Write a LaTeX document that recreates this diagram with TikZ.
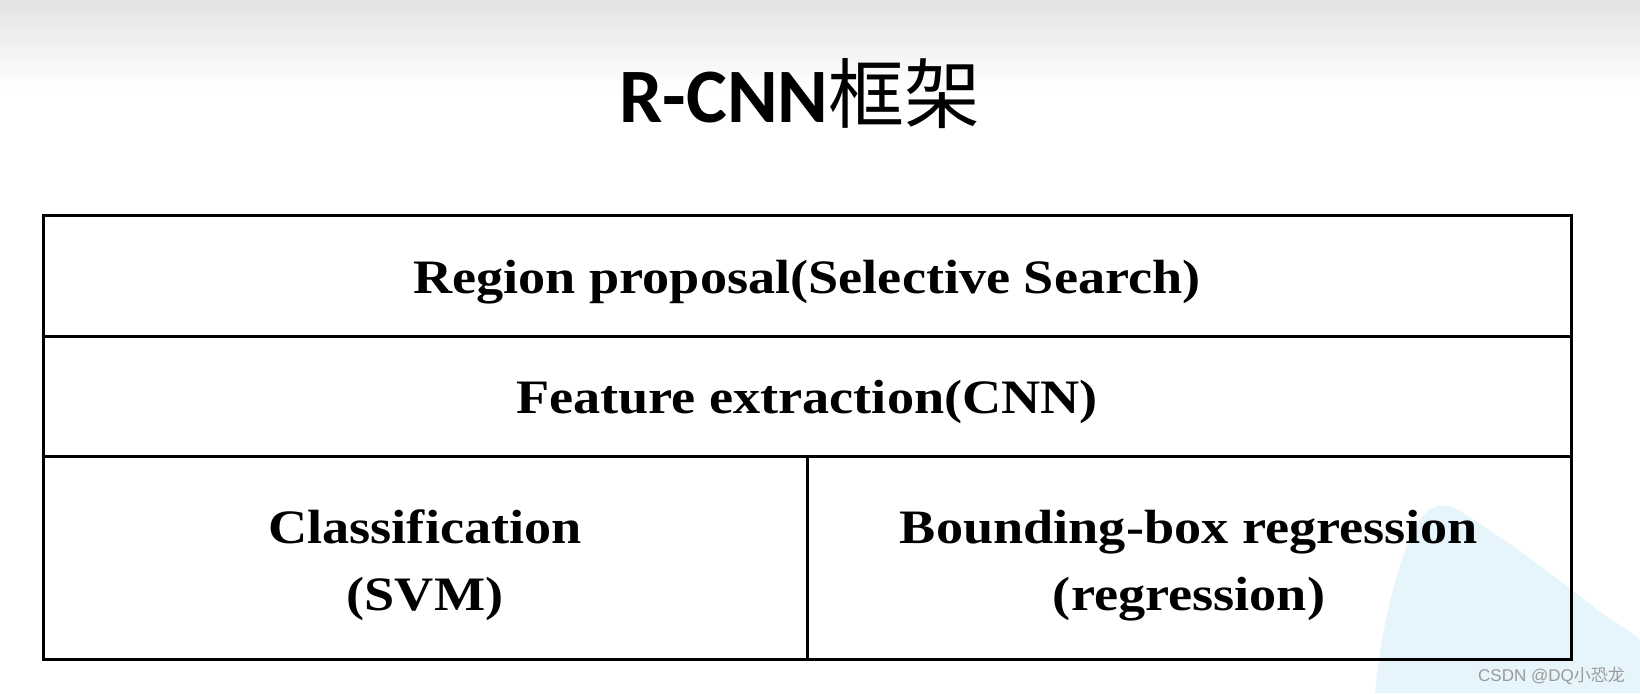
\documentclass[tikz,border=0pt]{standalone}
\usepackage{fontspec}
\setmainfont{Liberation Serif}[FakeStretch=1.13]
\newfontfamily\titlefont{Carlito}
\newfontfamily\cjk{Noto Sans CJK SC}
\newfontfamily\wmfont{Liberation Sans}
\definecolor{topgray}{HTML}{E3E3E3}
\definecolor{blob}{HTML}{E6F5FB}
\definecolor{wmgray}{HTML}{9A9A9A}
\tikzset{
  grid line/.style={line width=3pt, black, line cap=rect},
  celltext/.style={font=\bfseries\fontsize{48}{67}\selectfont, anchor=base, inner sep=0pt, align=center},
}
\begin{document}
\begin{tikzpicture}[x=1pt, y=-1pt]
\useasboundingbox (0,0) rectangle (1640,693);
\fill[white] (0,0) rectangle (1640,693);
\shade[top color=topgray, bottom color=white] (0,0) rectangle (1640,90);
% light blue background blob
\fill[blob] (1375,693) .. controls (1380,640) and (1395,560) .. (1420,520)
  .. controls (1428,507) and (1440,502) .. (1455,508)
  .. controls (1500,535) and (1560,580) .. (1600,612)
  .. controls (1620,625) and (1635,635) .. (1640,640) -- (1640,693) -- cycle;
% title
\node[anchor=base, inner sep=0pt] (title) at (800,122)
  {\titlefont\bfseries\fontsize{77}{85}\selectfont R-CNN\cjk\mdseries\fontsize{76}{85}\selectfont 框架};
% table corners
\coordinate (tl) at (43,215);
\coordinate (tr) at (1571,215);
\coordinate (r1l) at (43,336);
\coordinate (r1r) at (1571,336);
\coordinate (r2l) at (43,456);
\coordinate (r2r) at (1571,456);
\coordinate (bl) at (43,659);
\coordinate (br) at (1571,659);
\coordinate (dtop) at (807,456);
\coordinate (dbot) at (807,659);
\draw[grid line] (tl) -- (tr) -- (br) -- (bl) -- cycle;
\draw[grid line] (r1l) -- (r1r);
\draw[grid line] (r2l) -- (r2r);
\draw[grid line] (dtop) -- (dbot);
% cell texts
\node[celltext] (region) at (807,293) {Region proposal(Selective Search)};
\node[celltext] (feature) at (807,413) {Feature extraction(CNN)};
\node[celltext] (cls) at (425,543) {Classification};
\node[celltext] (svm) at (425,610) {(SVM)};
\node[celltext] (bbox) at (1189,543) {Bounding-box regression};
\node[celltext] (reg) at (1189,610) {(regression)};
% watermark
\node[anchor=base east, inner sep=0pt, text=wmgray] (wm) at (1625,681)
  {\wmfont\fontsize{17}{20}\selectfont CSDN @DQ\cjk 小恐龙};
\end{tikzpicture}
\end{document}
